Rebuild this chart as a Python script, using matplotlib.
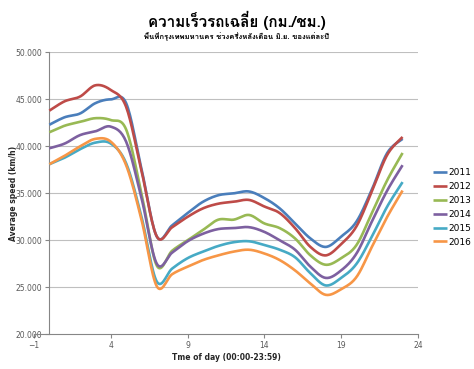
import numpy as np
import matplotlib
matplotlib.use('Agg')
import matplotlib.pyplot as plt
from matplotlib import font_manager as fm
from matplotlib.ft2font import FT2Font

# hourly average speed (km/h), 00:00 .. 23:00
hours = list(range(24))
speed_2011 = [42.3, 43.1, 43.5, 44.6, 45.0, 44.6, 37.6, 30.4, 31.6, 32.9, 34.1, 34.8,
              35.0, 35.2, 34.5, 33.4, 31.8, 30.2, 29.3, 30.4, 32.0, 35.4, 39.3, 40.8]
speed_2012 = [43.8, 44.8, 45.3, 46.5, 46.0, 44.2, 37.4, 30.4, 31.4, 32.5, 33.4, 33.9,
              34.1, 34.3, 33.6, 32.9, 31.3, 29.3, 28.4, 29.6, 31.5, 35.2, 39.1, 41.0]
speed_2013 = [41.5, 42.2, 42.6, 43.0, 42.8, 41.8, 35.0, 27.3, 28.9, 30.0, 31.1, 32.2,
              32.2, 32.7, 31.8, 31.3, 30.2, 28.4, 27.4, 28.1, 29.5, 32.9, 36.4, 39.3]
speed_2014 = [39.8, 40.3, 41.2, 41.6, 42.1, 40.5, 34.5, 27.5, 28.7, 29.9, 30.7, 31.2,
              31.3, 31.4, 30.9, 30.0, 29.0, 27.2, 26.0, 26.8, 28.6, 32.0, 35.3, 38.0]
speed_2015 = [38.1, 38.8, 39.7, 40.4, 40.3, 38.2, 32.5, 25.6, 27.0, 28.1, 28.8, 29.4,
              29.8, 29.9, 29.5, 29.0, 28.2, 26.5, 25.2, 26.0, 27.5, 30.4, 33.6, 36.2]
speed_2016 = [38.1, 39.0, 40.0, 40.8, 40.5, 38.0, 32.2, 25.1, 26.4, 27.2, 27.9, 28.4,
              28.8, 29.0, 28.6, 27.9, 26.8, 25.4, 24.2, 24.8, 26.1, 29.3, 32.5, 35.3]
years = ['2011', '2012', '2013', '2014', '2015', '2016']
colors = ['#4A7EBB', '#BE4B48', '#98B954', '#7D60A0', '#46AAC5', '#F79646']
x_ticks = [-1, 4, 9, 14, 19, 24]
y_ticks = [20, 25, 30, 35, 40, 45, 50]

title = 'ความเร็วรถเฉลี่ย (กม./ชม.)'
subtitle = 'พื้นที่กรุงเทพมหานคร ช่วงครึ่งหลังเดือน มิ.ย. ของแต่ละปี'


def find_thai_font():
    for f in fm.fontManager.ttflist:
        try:
            if ord('ก') in FT2Font(f.fname).get_charmap():
                return f.name
        except Exception:
            pass
    return 'DejaVu Sans'


def smooth(x, y, n=16):
    # Excel-like smoothed line (Catmull-Rom through the points)
    pts = np.column_stack([x, y]).astype(float)
    pts = np.vstack([pts[0], pts, pts[-1]])
    out = []
    t = np.linspace(0, 1, n, endpoint=False)[:, None]
    for i in range(1, len(pts) - 2):
        p0, p1, p2, p3 = pts[i - 1], pts[i], pts[i + 1], pts[i + 2]
        c1 = p1 + (p2 - p0) / 6
        c2 = p2 - (p3 - p1) / 6
        out.append((1 - t) ** 3 * p1 + 3 * (1 - t) ** 2 * t * c1 + 3 * (1 - t) * t ** 2 * c2 + t ** 3 * p2)
    out.append(pts[-2][None, :])
    out = np.vstack(out)
    return out[:, 0], out[:, 1]


thai = find_thai_font()
plt.rcParams['font.family'] = ['DejaVu Sans']

fig = plt.figure(figsize=(4.74, 3.69), dpi=100)
ax = fig.add_axes([0.0717, 0.094, 0.810, 0.764])

for yt in y_ticks[1:]:
    ax.hlines(yt, 0, 24, color='#BFBFBF', lw=0.8, zorder=1)

series = [speed_2011, speed_2012, speed_2013, speed_2014, speed_2015, speed_2016]
for vals, year, col in zip(series, years, colors):
    sx, sy = smooth(hours, vals)
    ax.plot(sx, sy, color=col, lw=1.9, label=year, solid_capstyle='butt', zorder=3)

ax.set_xlim(-1, 24)
ax.set_ylim(20, 50)
ax.set_xticks(x_ticks)
ax.set_yticks(y_ticks)
ax.set_yticklabels([f'{v:.3f}' for v in y_ticks])
ax.spines['left'].set_position(('data', 0))
ax.spines['right'].set_visible(False)
ax.spines['top'].set_visible(False)
ax.spines['left'].set_color('#868686')
ax.spines['bottom'].set_color('#868686')
ax.tick_params(axis='both', labelsize=5.5, colors='#868686', labelcolor='#595959', length=3,
               width=0.8, pad=2)

ax.set_xlabel('Tme of day (00:00-23:59)', fontsize=5.5, fontweight='bold', color='#262626', labelpad=2)
fig.text(0.028, 0.475, 'Average speed (km/h)', rotation=90, fontsize=5.5, fontweight='bold',
         color='#262626', ha='center', va='center')

fig.text(0.5, 0.945, title, fontsize=11, fontweight='bold', ha='center', va='center',
         family=[thai, 'DejaVu Sans'])
fig.text(0.5, 0.9, subtitle, fontsize=5.5, fontweight='bold', ha='center', va='center',
         family=[thai, 'DejaVu Sans'])

fig.legend(loc='upper left', bbox_to_anchor=(0.905, 0.555), frameon=False, fontsize=6.5,
           handlelength=1.6, handletextpad=0.1, labelspacing=0.55, borderaxespad=0)

fig.savefig('out.png', dpi=100)
